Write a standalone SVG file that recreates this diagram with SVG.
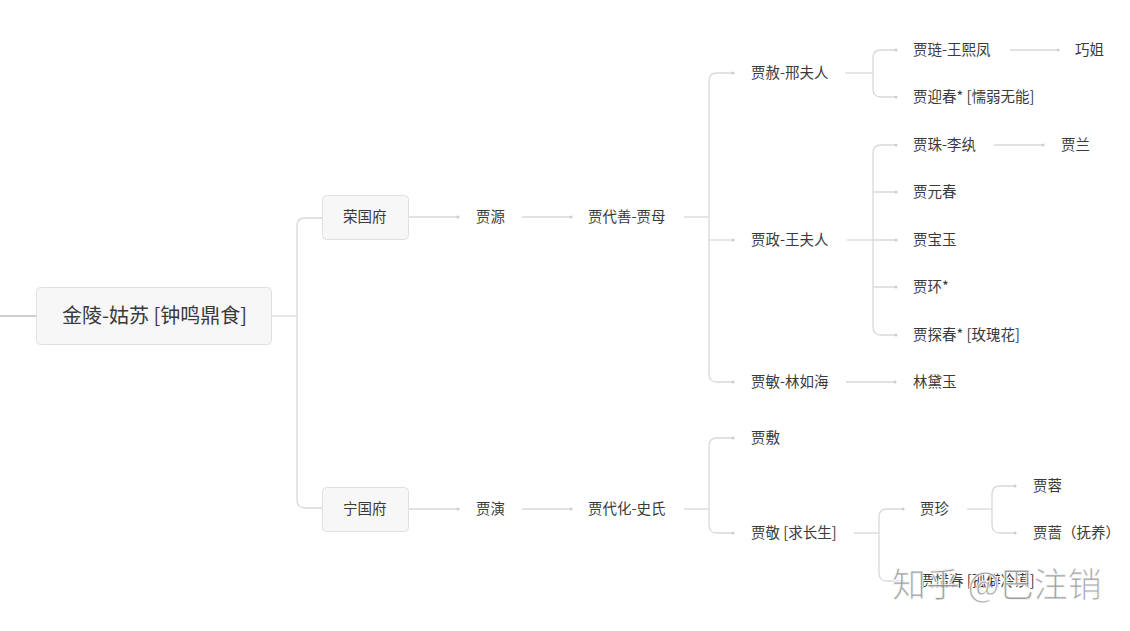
<svg xmlns="http://www.w3.org/2000/svg" width="1130" height="631" viewBox="0 0 1130 631">
<style>
.ln{fill:none;stroke:#d9d9d9;stroke-width:1.3}
.dot{fill:#cfcfcf}
.box{fill:#f7f7f7;stroke:#e0e0e0;stroke-width:1}
.t{font-family:"Noto Sans CJK SC","Microsoft YaHei",sans-serif;font-size:14.5px;fill:#3a3a3a;dominant-baseline:central}
.root{font-size:20px;fill:#3a3a3a}
.wm{font-family:"Noto Sans CJK SC",sans-serif;font-size:34px;fill:#8a8a8a;fill-opacity:0.85;stroke:#ffffff;stroke-width:1.2;stroke-opacity:0.8;dominant-baseline:central}
</style>
<rect width="1130" height="631" fill="#ffffff"/>
<g id="connectors">
<path class="ln" d="M0,316 H36" style="stroke-width:2;stroke:#cfcfcf"/>
<path class="ln" d="M271,316 H297"/>
<path class="ln" d="M322,218 H305 Q297,218 297,226 V500 Q297,508 305,508 H322"/>
<path class="ln" d="M409,217 H458"/>
<path class="ln" d="M522,217 H571"/>
<path class="ln" d="M684,217 H709"/>
<path class="ln" d="M733,73 H717 Q709,73 709,81 V374 Q709,382 717,382 H733"/>
<path class="ln" d="M709,240 H733"/>
<path class="ln" d="M845,73 H873"/>
<path class="ln" d="M896,50 H881 Q873,50 873,58 V89 Q873,97 881,97 H896"/>
<path class="ln" d="M1010,50 H1058"/>
<path class="ln" d="M847,240 H873"/>
<path class="ln" d="M896,145 H881 Q873,145 873,153 V327 Q873,335 881,335 H896"/>
<path class="ln" d="M873,192 H896 M873,240 H896 M873,287 H896"/>
<path class="ln" d="M994,145 H1043"/>
<path class="ln" d="M846,382 H895"/>
<path class="ln" d="M409,509 H458"/>
<path class="ln" d="M522,509 H571"/>
<path class="ln" d="M684,509 H709"/>
<path class="ln" d="M733,438 H717 Q709,438 709,446 V525 Q709,533 717,533 H733"/>
<path class="ln" d="M854,533 H879"/>
<path class="ln" d="M903,509 H887 Q879,509 879,517 V573 Q879,581 887,581 H903"/>
<path class="ln" d="M967,509 H992"/>
<path class="ln" d="M1015,486 H1000 Q992,486 992,494 V525 Q992,533 1000,533 H1015"/>
<g class="dot">
<circle cx="458" cy="217" r="1.6"/><circle cx="571" cy="217" r="1.6"/>
<circle cx="733" cy="73" r="1.6"/><circle cx="733" cy="240" r="1.6"/><circle cx="733" cy="382" r="1.6"/>
<circle cx="896" cy="50" r="1.6"/><circle cx="896" cy="97" r="1.6"/><circle cx="1058" cy="50" r="1.6"/>
<circle cx="896" cy="145" r="1.6"/><circle cx="896" cy="192" r="1.6"/><circle cx="896" cy="240" r="1.6"/><circle cx="896" cy="287" r="1.6"/><circle cx="896" cy="335" r="1.6"/>
<circle cx="1043" cy="145" r="1.6"/><circle cx="895" cy="382" r="1.6"/>
<circle cx="458" cy="509" r="1.6"/><circle cx="571" cy="509" r="1.6"/>
<circle cx="733" cy="438" r="1.6"/><circle cx="733" cy="533" r="1.6"/>
<circle cx="903" cy="509" r="1.6"/><circle cx="903" cy="581" r="1.6"/>
<circle cx="1015" cy="486" r="1.6"/><circle cx="1015" cy="533" r="1.6"/>
</g>
</g>
<g id="n-root"><rect class="box" x="36.5" y="287.5" width="235" height="57" rx="4"/><text class="t root" x="62" y="314.5">金陵-姑苏 [钟鸣鼎食]</text></g>
<g id="n-rongguofu"><rect class="box" x="322.5" y="195.5" width="86" height="44" rx="4"/><text class="t" x="343" y="215.5">荣国府</text></g>
<g id="n-ningguofu"><rect class="box" x="322.5" y="487.5" width="86" height="44" rx="4"/><text class="t" x="343" y="507.5">宁国府</text></g>
<g id="n-jiayuan"><text class="t" x="476" y="215.5">贾源</text></g>
<g id="n-jiadaishan"><text class="t" x="588" y="215.5">贾代善-贾母</text></g>
<g id="n-jiashe"><text class="t" x="751" y="71.5">贾赦-邢夫人</text></g>
<g id="n-jialian"><text class="t" x="913" y="48.5">贾琏-王熙凤</text></g>
<g id="n-qiaojie"><text class="t" x="1075" y="48.5">巧姐</text></g>
<g id="n-yingchun"><text class="t" x="913" y="95.5">贾迎春* [懦弱无能]</text></g>
<g id="n-jiazheng"><text class="t" x="751" y="238.5">贾政-王夫人</text></g>
<g id="n-jiazhu"><text class="t" x="913" y="143.5">贾珠-李纨</text></g>
<g id="n-jialan"><text class="t" x="1061" y="143.5">贾兰</text></g>
<g id="n-yuanchun"><text class="t" x="913" y="190.5">贾元春</text></g>
<g id="n-baoyu"><text class="t" x="913" y="238.5">贾宝玉</text></g>
<g id="n-jiahuan"><text class="t" x="913" y="285.5">贾环*</text></g>
<g id="n-tanchun"><text class="t" x="913" y="333.5">贾探春* [玫瑰花]</text></g>
<g id="n-jiamin"><text class="t" x="751" y="380.5">贾敏-林如海</text></g>
<g id="n-daiyu"><text class="t" x="913" y="380.5">林黛玉</text></g>
<g id="n-jiayan"><text class="t" x="476" y="507.5">贾演</text></g>
<g id="n-jiadaihua"><text class="t" x="588" y="507.5">贾代化-史氏</text></g>
<g id="n-jiafu"><text class="t" x="751" y="436.5">贾敷</text></g>
<g id="n-jiajing"><text class="t" x="751" y="531.5">贾敬 [求长生]</text></g>
<g id="n-jiazhen"><text class="t" x="920" y="507.5">贾珍</text></g>
<g id="n-jiarong"><text class="t" x="1033" y="484.5">贾蓉</text></g>
<g id="n-jiaqiang"><text class="t" x="1033" y="531.5">贾蔷（抚养）</text></g>
<g id="n-xichun"><text class="t" x="920" y="579.5">贾惜春 [孤僻冷漠]</text></g>
<text class="wm" x="892" y="582">知乎 @巴注销</text>
</svg>
